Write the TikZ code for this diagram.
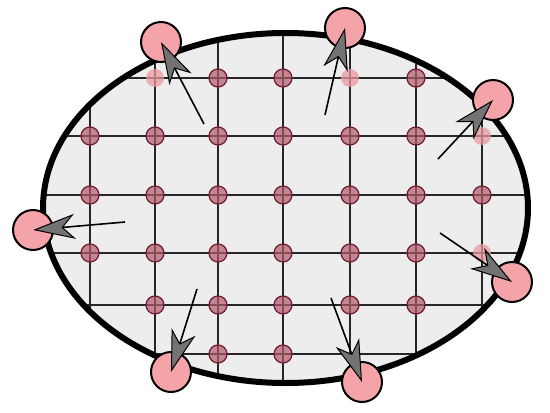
\documentclass[tikz,border=0pt]{standalone}
\usepackage{xcolor}
\usepackage{tikz}
\usetikzlibrary{arrows.meta}

\definecolor{skin}{HTML}{EDEDED}
\definecolor{rose}{HTML}{F4A4A8}
\definecolor{dotfill}{HTML}{B25A6A}
\definecolor{dotline}{HTML}{6E1E2E}

\begin{document}
\begin{tikzpicture}[x=1pt, y=-1pt,
  grid/.style={line width=1.3pt, black!85},
  dot/.style={circle, inner sep=0pt, minimum size=18pt, draw=dotline, line width=1.3pt, fill=dotfill, fill opacity=0.7},
  ghost/.style={circle, inner sep=0pt, minimum size=18pt, fill=rose!85!dotfill, fill opacity=0.75},
  wall/.style={circle, inner sep=0pt, minimum size=40pt, draw=black, line width=2pt, fill=rose},
  push/.style={line width=1.6pt, -{Stealth[length=42pt, width=25pt, inset=12pt, fill=black!55, line width=1pt]}}]
  \useasboundingbox (0,0) rectangle (550,413);
  \path[fill=skin] (285.5,208) ellipse [x radius=242.5pt, y radius=175pt];
  \begin{scope}
    \clip (285.5,208) ellipse [x radius=240pt, y radius=172pt];
    \foreach \y in {78,136,195,253,305,354}
      \draw[grid] (0,\y) -- (550,\y);
    \foreach \x in {90,155,218,283,350,416,482}
      \draw[grid] (\x,0) -- (\x,413);
  \end{scope}
  % mesh points
  \foreach \x in {218,283,416} \node[dot] (d-1-\x) at (\x,78) {};
  \foreach \x in {90,155,218,283,350,416} \node[dot] (d-2-\x) at (\x,136) {};
  \foreach \x in {90,155,218,283,350,416,482} \node[dot] (d-3-\x) at (\x,195) {};
  \foreach \x in {90,155,218,283,350,416} \node[dot] (d-4-\x) at (\x,253) {};
  \foreach \x in {155,218,283,350,416} \node[dot] (d-5-\x) at (\x,305) {};
  \foreach \x in {218,283} \node[dot] (d-6-\x) at (\x,354) {};
  \node[ghost] (g1) at (155,78) {};
  \node[ghost] (g2) at (350,78) {};
  \node[ghost] (g3) at (482,136) {};
  \node[ghost] (g4) at (482,253) {};
  \draw[line width=6pt] (285.5,208) ellipse [x radius=242.5pt, y radius=175pt];
  % boundary points
  \node[wall] (b1) at (161,42) {};
  \node[wall] (b2) at (345,28) {};
  \node[wall] (b3) at (493,100) {};
  \node[wall] (b4) at (33,230) {};
  \node[wall] (b5) at (171,372) {};
  \node[wall] (b6) at (362,382) {};
  \node[wall] (b7) at (512,282) {};
  \coordinate (s1) at (204,124);
  \coordinate (s2) at (325,115);
  \coordinate (s3) at (438,159);
  \coordinate (s4) at (125,222);
  \coordinate (s5) at (197,289);
  \coordinate (s6) at (331,298);
  \coordinate (s7) at (440,233);
  \foreach \i in {1,...,7}
    \draw[push] (s\i) -- (b\i.center);
\end{tikzpicture}
\end{document}
